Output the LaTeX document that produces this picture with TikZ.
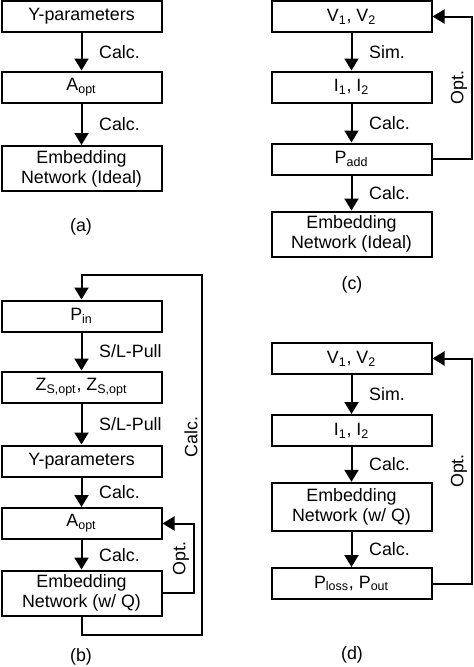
\documentclass[tikz,border=0pt]{standalone}
\usepackage{fontspec}
\setmainfont{Liberation Sans}
\usetikzlibrary{arrows.meta,positioning}

\tikzset{
  blk/.style={rectangle, draw, line width=1.2pt, minimum width=96pt, minimum height=18.6pt, inner sep=0pt, align=center},
  blk2/.style={blk, minimum height=27pt},
  flow/.style={line width=1.2pt, -{Triangle[width=8.4pt,length=7.2pt]}},
  lbl/.style={right, inner sep=0pt, xshift=10pt},
  lblv/.style={rotate=90, anchor=south, inner sep=2pt},
}

\begin{document}
\begin{tikzpicture}[x=0.6pt, y=-0.6pt, font=\fontsize{10.7}{12}\selectfont]
		\useasboundingbox (0,0) rectangle (474,667);
		% (a)
		\path (81.5,16.5) node[blk] (ya) {Y-parameters}
  		(81.5,87) node[blk] (aopta) {A\textsubscript{opt}}
  		(81.5,168.5) node[blk2] (emba) {Embedding\\Network (Ideal)}
  		(81,227) node (capa) {(a)};

		\draw[flow] (ya) -- node[lbl] {Calc.} (aopta);
		\draw[flow] (aopta) -- node[lbl] {Calc.} (emba);

		% (b)
		\path (81.5,316) node[blk] (pin) {P\textsubscript{in}}
  		(81.5,387) node[blk] (zopt) {Z\textsubscript{S,opt}, Z\textsubscript{S,opt}}
  		(81.5,461) node[blk] (yb) {Y-parameters}
  		(81.5,523.5) node[blk] (aoptb) {A\textsubscript{opt}}
  		(81.5,593) node[blk2] (embb) {Embedding\\Network (w/ Q)}
  		(81,657) node (capb) {(b)};

		\draw[flow] (pin) -- node[lbl] {S/L-Pull} (zopt);
		\draw[flow] (zopt) -- node[lbl] {S/L-Pull} (yb);
		\draw[flow] (yb) -- node[lbl] {Calc.} (aoptb);
		\draw[flow] (aoptb) -- node[lbl] {Calc.} (embb);
		\draw[flow] (embb.east) -- ++(31,0) |- node[lblv, pos=0.25] {Opt.} (aoptb.east);
		\draw[flow] (embb.south) -- ++(0,18) -| node[lblv, pos=0.775] {Calc.} (202,275) -| (pin.north);

		% (c)
		\path (351.5,16.5) node[blk] (vc) {V\textsubscript{1}, V\textsubscript{2}}
  		(351.5,87) node[blk] (ic) {I\textsubscript{1}, I\textsubscript{2}}
  		(351.5,159) node[blk] (padd) {P\textsubscript{add}}
  		(351.5,234) node[blk2] (embc) {Embedding\\Network (Ideal)}
  		(352,285) node (capc) {(c)};

		\draw[flow] (vc) -- node[lbl] {Sim.} (ic);
		\draw[flow] (ic) -- node[lbl] {Calc.} (padd);
		\draw[flow] (padd) -- node[lbl] {Calc.} (embc);
		\draw[flow] (padd.east) -- ++(39,0) |- node[lblv, pos=0.25] {Opt.} (vc.east);

		% (d)
		\path (351.5,358.5) node[blk] (vd) {V\textsubscript{1}, V\textsubscript{2}}
  		(351.5,430.5) node[blk] (id) {I\textsubscript{1}, I\textsubscript{2}}
  		(351.5,507) node[blk2, minimum height=29pt] (embd) {Embedding\\Network (w/ Q)}
  		(351.5,583.5) node[blk] (ploss) {P\textsubscript{loss}, P\textsubscript{out}}
  		(352,655) node (capd) {(d)};

		\draw[flow] (vd) -- node[lbl] {Sim.} (id);
		\draw[flow] (id) -- node[lbl] {Calc.} (embd);
		\draw[flow] (embd) -- node[lbl] {Calc.} (ploss);
		\draw[flow] (ploss.east) -- ++(39,0) |- node[lblv, pos=0.25] {Opt.} (vd.east);
	\end{tikzpicture}
\end{document}
